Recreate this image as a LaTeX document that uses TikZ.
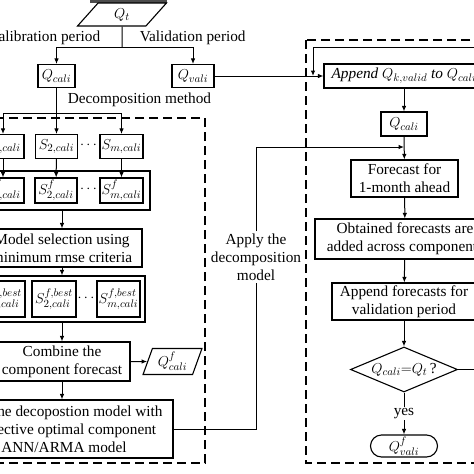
\documentclass[tikz,border=0pt]{standalone}
\usepackage{fontspec}
\setmainfont{Liberation Serif}
\usetikzlibrary{arrows.meta, positioning, shapes.geometric}

\begin{document}
\begin{tikzpicture}[x=1pt,y=-1pt,line width=1pt,
    >={Latex[length=5.5pt,width=4.5pt]},
    every node/.style={font=\fontsize{15.3}{18}\selectfont}]
  % Define box styles
  \tikzstyle{boxA}=[rectangle,draw,line width=1.1pt,inner sep=1pt,align=center]
  \tikzstyle{comp}=[boxA,minimum width=42pt,minimum height=24pt]
  \tikzstyle{dataP}=[trapezium,trapezium stretches=true,draw,line width=1.1pt,inner sep=0pt]
  \tikzstyle{frameD}=[dash pattern=on 9pt off 5pt,line width=1.1pt]

  \useasboundingbox (0,0) rectangle (474,474);
  \clip (0,0) rectangle (474,474);
  \fill[black!70] (90,0) rectangle (167,2.5);

  % input and split
  \node[dataP,trapezium left angle=62,trapezium right angle=118,
        minimum width=89pt,minimum height=23pt] (q_t) at (122,14.5) {$Q_t$};
  \coordinate (sp) at (122,47);
  \node[anchor=east] (l_cal) at (104,38) {Calibration period};
  \node[anchor=west] (l_val) at (136,38) {Validation period};
  \node[boxA,minimum width=37pt,minimum height=23pt] (q_cal) at (56.5,76) {$Q_{cali}$};
  \node[boxA,minimum width=42pt,minimum height=23pt] (q_val) at (193,76) {$Q_{vali}$};
  \draw (q_t) -- (sp);
  \draw[->] (sp) -| (q_cal);
  \draw[->] (sp) -| (q_val);

  % calibration side
  \draw[frameD] (-10,118) rectangle (205,463);
  \coordinate (dp) at (56.5,113);
  \node[anchor=west] (l_dec) at (64,100) {Decomposition method};
  \draw (q_cal) -- (dp);

  \node[comp]                   (s_1) at (3,146.5)     {$S_{1,cali}$};
  \node[comp]                   (s_2) at (56.5,146.5)  {$S_{2,cali}$};
  \node[comp,minimum width=43pt] (s_m) at (121.5,146.5) {$S_{m,cali}$};
  \node (d_1) at (88.5,145) {$\cdots$};
  \draw[->] (dp) -| (s_1);
  \draw[->] (dp) -- (s_2);
  \draw[->] (dp) -| (s_m);

  \node[boxA,minimum width=176pt,minimum height=39pt] (g_2) at (62,190.5) {};
  \node[comp,minimum height=25pt]                  (sf_1) at (3,190.5)     {$S^{f}_{1,cali}$};
  \node[comp,minimum height=25pt]                  (sf_2) at (56,190.5)    {$S^{f}_{2,cali}$};
  \node[comp,minimum height=25pt,minimum width=43pt] (sf_m) at (121.5,190.5) {$S^{f}_{m,cali}$};
  \node (d_2) at (88.5,189) {$\cdots$};
  \draw[->] (s_1) -- (sf_1);
  \draw[->] (s_2) -- (sf_2);
  \draw[->] (s_m) -- (sf_m);

  \node[boxA,minimum width=160pt,minimum height=38pt] (m_sel) at (62,248)
    {Model selection using\\minimum rmse criteria};
  \draw[->] (g_2) -- (m_sel);

  \node[boxA,minimum width=166pt,minimum height=46pt] (g_3) at (62,299) {};
  \node[comp,minimum width=44pt,minimum height=36pt] (sb_1) at (3,299)     {$S^{f,best}_{1,cali}$};
  \node[comp,minimum width=44pt,minimum height=36pt] (sb_2) at (54,299)    {$S^{f,best}_{2,cali}$};
  \node[comp,minimum width=43pt,minimum height=36pt] (sb_m) at (118.5,299) {$S^{f,best}_{m,cali}$};
  \node (d_3) at (86,298) {$\cdots$};
  \draw[->] (m_sel) -- (g_3);

  \node[boxA,minimum width=136pt,minimum height=39pt] (c_mb) at (62,361.5)
    {Combine the\\component forecast};
  \node[dataP,trapezium left angle=70,trapezium right angle=110,
        minimum width=59pt,minimum height=26pt] (q_fc) at (172.5,361.5) {$Q^{f}_{cali}$};
  \draw[->] (g_3) -- (c_mb);
  \draw[->] (c_mb) -- (q_fc);

  \node[boxA,minimum width=218pt,minimum height=58pt] (u_dm) at (64,429)
    {Use the decopostion model with\\respective optimal component\\ANN/ARMA model};
  \draw[->] (c_mb) -- (c_mb |- u_dm.north);

  % link to validation side
  \node[fill=white,align=center,inner sep=2pt] (ap) at (256,257)
    {Apply the\\decomposition\\model};
  \coordinate (jn) at (404,147);
  \draw (u_dm) -| (ap);
  \draw[->] (ap) |- (jn);

  % validation side
  \draw[frameD] (306,40) rectangle (490,463);
  \node[boxA,minimum width=160pt,minimum height=24pt] (a_pp) at (404,76)
    {\itshape Append $Q_{k,valid}$ to $Q_{cali}$};
  \coordinate (in) at (313,76);
  \coordinate (tp) at (490,47);
  \draw[->] (q_val) -- (a_pp);

  \node[boxA,minimum width=46pt,minimum height=24pt] (q_cr) at (404,124) {$Q_{cali}$};
  \node[boxA,minimum width=107pt,minimum height=37pt] (f_c) at (404.5,178.5)
    {Forecast for\\1-month ahead};
  \node[boxA,minimum width=180pt,minimum height=40pt] (o_f) at (405,239)
    {Obtained forecasts are\\added across components};
  \node[boxA,minimum width=144pt,minimum height=37pt] (a_f) at (404,301.5)
    {Append forecasts for\\validation period};
  \node[diamond,draw,line width=1.1pt,shape aspect=2.4,inner sep=0pt,
        minimum width=107pt,minimum height=45pt] (c_k) at (404,369.5) {$Q_{cali}{=}Q_t\,$?};
  \node[boxA,rounded corners=11pt,minimum width=67pt,minimum height=22pt] (q_fv) at (404,446)
    {$Q^{f}_{vali}$};

  \draw[->] (a_pp) -- (q_cr);
  \draw[->] (q_cr) -- (f_c);
  \draw[->] (f_c) -- (o_f);
  \draw[->] (o_f) -- (a_f);
  \draw[->] (a_f) -- (c_k);
  \draw[->] (c_k) -- node[fill=white,inner sep=1pt] {yes} (q_fv);
  \draw[->] (c_k.east) -| (tp) -| (in);
\end{tikzpicture}
\end{document}
